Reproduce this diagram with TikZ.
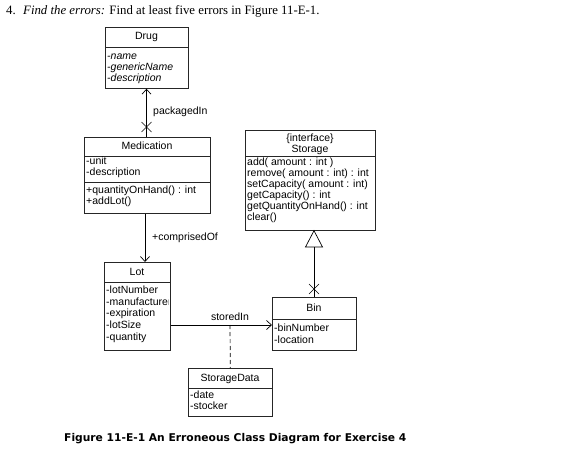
\documentclass[tikz,border=0pt]{standalone}
\usepackage{fontspec}
\setmainfont{Liberation Serif}
\setsansfont{Liberation Sans}
\newfontfamily\capfont{DejaVu Sans}
\usetikzlibrary{arrows.meta}
\begin{document}
\begin{tikzpicture}[x=1pt,y=-1pt,
  umlbox/.style={draw=black!85, line width=0.7pt, inner sep=0pt, anchor=north west},
  ttl/.style={font=\sffamily\fontsize{10.5}{11}\selectfont, inner sep=0pt, anchor=mid},
  attr/.style={font=\sffamily\fontsize{10.5}{11}\selectfont, inner sep=0pt, anchor=mid west},
  iattr/.style={font=\sffamily\itshape\fontsize{10.5}{11}\selectfont, inner sep=0pt, anchor=mid west},
  lbl/.style={font=\sffamily\fontsize{10.5}{11}\selectfont, inner sep=0pt, anchor=mid west},
  divider/.style={draw=black!85, line width=0.7pt},
  conn/.style={draw=black, line width=0.7pt},
  barb/.style={-{Straight Barb[length=5pt,width=9pt]}}
]
\useasboundingbox (0,0) rectangle (571,471);

% header
\node[font=\fontsize{12.8}{14}\selectfont, inner sep=0pt, anchor=base west] (num) at (6,15) {4.};
\node[font=\fontsize{12.8}{14}\selectfont, inner sep=0pt, anchor=base west] (head) at (23,15) {\textit{Find the errors:} Find at least five errors in Figure 11-E-1.};

% Drug
\node[umlbox, minimum width=83pt, minimum height=61pt] (drug) at (105,27) {};
\node[ttl] (drugt) at (146.5,37) {Drug};
\draw[divider] (105,47) -- (188,47);
\node[iattr] (drug1) at (107,57) {-name};
\node[iattr] (drug2) at (107,68) {-genericName};
\node[iattr] (drug3) at (107,79) {-description};

% Medication
\node[umlbox, minimum width=126pt, minimum height=76pt] (med) at (84,137) {};
\node[ttl] (medt) at (147,147) {Medication};
\draw[divider] (84,156) -- (210,156);
\node[attr] (med1) at (86,162) {-unit};
\node[attr] (med2) at (86,173) {-description};
\draw[divider] (84,182) -- (210,182);
\node[attr] (med3) at (86,191) {+quantityOnHand() : int};
\node[attr] (med4) at (86,202) {+addLot()};

% Storage
\node[umlbox, minimum width=130pt, minimum height=100pt] (stor) at (245,130) {};
\node[ttl] (stori) at (310,139) {\{interface\}};
\node[ttl] (stort) at (310,150) {Storage};
\draw[divider] (245,156) -- (375,156);
\node[attr] (stor1) at (247,163) {add( amount : int )};
\node[attr] (stor2) at (247,174) {remove( amount : int) : int};
\node[attr] (stor3) at (247,185) {setCapacity( amount : int)};
\node[attr] (stor4) at (247,196) {getCapacity() : int};
\node[attr] (stor5) at (247,207) {getQuantityOnHand() : int};
\node[attr] (stor6) at (247,218) {clear()};

% Lot
\node[umlbox, minimum width=66pt, minimum height=88pt] (lot) at (104,262) {};
\node[ttl] (lott) at (137,273) {Lot};
\draw[divider] (104,282) -- (170,282);
\begin{scope}
\clip (104,282) rectangle (168,350);
\node[attr] (lot1) at (106,291) {-lotNumber};
\node[attr] (lot2) at (106,303) {-manufacturer};
\node[attr] (lot3) at (106,314.5) {-expiration};
\node[attr] (lot4) at (106,326) {-lotSize};
\node[attr] (lot5) at (106,338) {-quantity};
\end{scope}

% Bin
\node[umlbox, minimum width=84pt, minimum height=53pt] (bin) at (272,297) {};
\node[ttl] (bint) at (314,309) {Bin};
\draw[divider] (272,319) -- (356,319);
\node[attr] (bin1) at (274,329) {-binNumber};
\node[attr] (bin2) at (274,341) {-location};

% StorageData
\node[umlbox, minimum width=84pt, minimum height=48pt] (sd) at (188,368) {};
\node[ttl] (sdt) at (230,379) {StorageData};
\draw[divider] (188,388) -- (272,388);
\node[attr] (sd1) at (190,396) {-date};
\node[attr] (sd2) at (190,407) {-stocker};

% Drug -- Medication (packagedIn)
\coordinate (xa) at (146.5,0);
\draw[conn, barb] (med.north -| xa) -- (drug.south -| xa);
\draw[conn] (141.5,122) -- (151.5,132) (141.5,132) -- (151.5,122);
\node[lbl] (pk) at (153,112) {packagedIn};

% Medication -> Lot (comprisedOf)
\coordinate (xb) at (145,0);
\draw[conn, barb] (med.south -| xb) -- (lot.north -| xb);
\node[lbl] (co) at (152,238) {+comprisedOf};

% Bin -> Storage (realization)
\coordinate (xc) at (314,0);
\coordinate (tribase) at (314,247);
\draw[conn] (stor.south -| xc) -- (305.5,247) -- (322.5,247) -- cycle;
\draw[conn] (tribase) -- (bin.north -| xc);
\draw[conn] (309,284) -- (319,294) (309,294) -- (319,284);

% Lot -> Bin (storedIn)
\coordinate (ya) at (0,325);
\draw[conn, barb] (lot.east |- ya) -- (bin.west |- ya);
\node[ttl] (si) at (230,318) {storedIn};
\coordinate (assoc) at (230,325);
\draw[conn, dashed, dash pattern=on 4pt off 3pt] (assoc) -- (sd.north);

% caption
\node[font=\capfont\bfseries\fontsize{10.7}{13}\selectfont, inner sep=0pt, anchor=base west] (cap) at (64,441) {Figure 11-E-1 An Erroneous Class Diagram for Exercise 4};
\end{tikzpicture}
\end{document}
